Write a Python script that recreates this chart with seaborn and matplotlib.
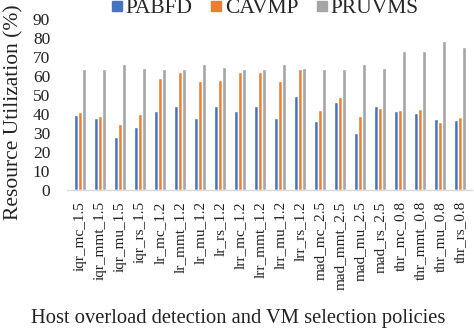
import matplotlib
matplotlib.use("Agg")
import matplotlib.pyplot as plt
import seaborn as sns
import pandas as pd
from matplotlib.lines import Line2D

categories = ["iqr_mc_1.5", "iqr_mmt_1.5", "iqr_mu_1.5", "iqr_rs_1.5",
              "lr_mc_1.2", "lr_mmt_1.2", "lr_mu_1.2", "lr_rs_1.2",
              "lrr_mc_1.2", "lrr_mmt_1.2", "lrr_mu_1.2", "lrr_rs_1.2",
              "mad_mc_2.5", "mad_mmt_2.5", "mad_mu_2.5", "mad_rs_2.5",
              "thr_mc_0.8", "thr_mmt_0.8", "thr_mu_0.8", "thr_rs_0.8"]
pabfd = [39.5, 37.7, 28.0, 33.0, 41.8, 44.4, 37.7, 44.0,
         41.8, 44.4, 37.7, 49.5, 36.5, 46.5, 29.8, 44.2,
         41.6, 40.7, 37.4, 36.8]
cavmp = [41.2, 39.1, 34.6, 40.0, 59.0, 62.3, 57.5, 57.9,
         61.9, 62.3, 57.5, 63.7, 42.1, 48.9, 38.9, 43.3,
         42.1, 42.8, 35.6, 38.4]
pruvms = [63.7, 63.7, 66.3, 64.4, 63.7, 63.7, 66.3, 64.7,
          63.7, 63.7, 66.3, 64.4, 63.7, 63.7, 66.3, 64.4,
          73.3, 73.3, 78.2, 75.3]
series = ["PABFD", "CAVMP", "PRUVMS"]
colors = ["#4472C4", "#ED7D31", "#A5A5A5"]

df = pd.DataFrame({
    "policy": categories * 3,
    "series": [series[0]] * 20 + [series[1]] * 20 + [series[2]] * 20,
    "value": pabfd + cavmp + pruvms,
})

sns.set_theme(style="white")
plt.rcParams["font.family"] = ["Liberation Serif", "DejaVu Serif"]

fig = plt.figure(figsize=(4.74, 3.34), dpi=100)
ax = fig.add_axes([0.141, 0.431, 0.855, 0.512])
sns.barplot(data=df, x="policy", y="value", hue="series", palette=colors,
            width=0.6, saturation=1, ax=ax, legend=False, gap=0)

ax.set_ylim(0, 90)
ax.set_yticks(range(0, 91, 10))
ax.set_xlim(-0.65, 19.6)
for s in ["top", "right", "left"]:
    ax.spines[s].set_visible(False)
ax.spines["bottom"].set_color("#D9D9D9")
ax.spines["bottom"].set_linewidth(1.0)
ax.tick_params(axis="y", labelsize=12.5, pad=12, length=0, colors="#222222")
ax.tick_params(axis="x", labelsize=11, rotation=90, length=0, pad=8, colors="#222222")
ax.set_xlabel("Host overload detection and VM selection policies", fontsize=14.8,
              color="#222222")
ax.xaxis.set_label_coords(0.503, 0.046, transform=fig.transFigure)
ax.xaxis.label.set_va("center")
ax.set_ylabel("Resource Utilization (%)", fontsize=15.5, color="#222222")
ax.yaxis.set_label_coords(0.03, 0.665, transform=fig.transFigure)
ax.yaxis.label.set_va("center")

handles = [Line2D([], [], marker="s", linestyle="", color=c, markersize=7) for c in colors]
fig.legend(handles, series, loc="center", bbox_to_anchor=(0.558, 0.975), ncol=3,
           frameon=False, fontsize=15.5, handletextpad=0.1, columnspacing=0.8,
           handlelength=0.6)

fig.savefig("out.png", dpi=100)
